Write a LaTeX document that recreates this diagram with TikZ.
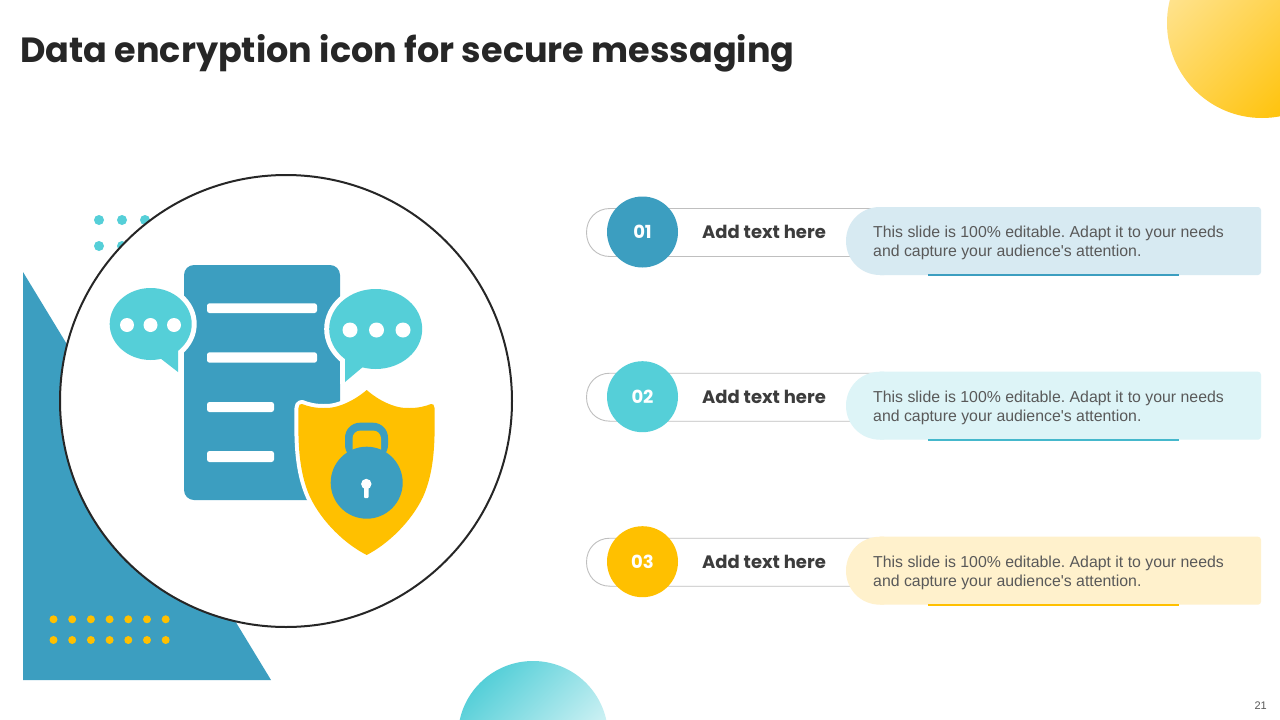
\documentclass[tikz,border=0pt]{standalone}
\usepackage{fontspec}
\setmainfont{Liberation Sans}
\newfontfamily\bodyfont{Liberation Sans}
\newfontfamily\titlefont{Poppins}
\newfontfamily\headfont{Poppins}
\usetikzlibrary{shadings}
\definecolor{tblue}{HTML}{3C9EC0}
\definecolor{tteal}{HTML}{55CFD8}
\definecolor{tyellow}{HTML}{FFC000}
\definecolor{tink}{HTML}{262626}
\definecolor{tbody}{HTML}{595959}
\definecolor{pa}{HTML}{D7EAF2}
\definecolor{pb}{HTML}{DDF4F7}
\definecolor{pc}{HTML}{FFF1CC}
\definecolor{la}{HTML}{3C9EC0}
\definecolor{lb}{HTML}{45B8CC}
\definecolor{lc}{HTML}{FFC000}
\definecolor{sunlight}{HTML}{FFE597}
\definecolor{sunmid}{HTML}{FFC720}
\tikzset{
  numdot/.style={circle,inner sep=0pt,minimum size=71pt,text=white,font=\headfont\bfseries\fontsize{18}{20}\selectfont},
  headtext/.style={anchor=west,inner sep=0pt,text=tink!90,font=\headfont\bfseries\fontsize{18}{22}\selectfont},
  bodytext/.style={anchor=west,inner sep=0pt,align=left,text=tbody,font=\bodyfont\fontsize{15.85}{19.3}\selectfont\frenchspacing},
  pill/.style={draw=black!25,line width=0.9pt,fill=white},
  halo/.style={draw=white,line width=#1,line join=round},
}
\begin{document}
\begin{tikzpicture}[x=1pt,y=-1pt]
\useasboundingbox (0,0) rectangle (1280,720);
\clip (0,0) rectangle (1280,720);
\fill[white] (0,0) rectangle (1280,720);
% corner decoration
\shade[top color=sunlight,middle color=sunmid,bottom color=tyellow,shading angle=45] (1262,23) circle[radius=95];
\shade[top color=tteal,bottom color=tteal!8,shading angle=45] (533,736) circle[radius=75];
% title
\node[anchor=base west,inner sep=0pt,text=tink,font=\titlefont\bfseries\fontsize{35}{40}\selectfont] (title) at (20,62) {Data encryption icon for secure messaging};
% triangle
\fill[tblue] (23,272) -- (23,680) -- (271,680) -- cycle;
% teal dots
\foreach \p in {(99,220),(122,220),(145,220),(99,246),(122,246)} \fill[tteal] \p circle[radius=5];
% yellow dots
\foreach \x in {53.5,72.2,90.9,109.6,128.3,147,165.7} {
  \fill[tyellow] (\x,619.3) circle[radius=4];
  \fill[tyellow] (\x,640) circle[radius=4];
}
% big circle
\draw[fill=white,draw=tink,line width=2pt] (286,401) circle[radius=226];
% document
\fill[tblue,rounded corners=10pt] (184,265) rectangle (340,500);
\foreach \a/\b/\c/\d in {207/303.3/317/313,207/352.3/317/362.7,207/402/274/412,207/451/274/462}
  \fill[white,rounded corners=2.5pt] (\a,\b) rectangle (\c,\d);
% left bubble
\def\lbub{(150.7,324) ellipse[x radius=41,y radius=36]}
\def\ltail{(160,358) -- (178,372) -- (178,350) -- cycle}
\path[halo=10pt,fill=white] \lbub;
\path[halo=10pt,fill=white] (172,345) -- (178,352) -- (178,360) -- cycle;
\fill[white] (178,352) -- (184,352) -- (184,372) -- (178,372) -- cycle;
\fill[tteal] \lbub;
\fill[tteal] \ltail;
\foreach \x in {127,150.5,174} \fill[white] (\x,325) circle[radius=7];
% right bubble
\def\rbub{(375.7,329) ellipse[x radius=46.5,y radius=40]}
\path[halo=10pt,fill=white] \rbub;
\fill[white] (340,358) -- (345,358) -- (345,384) -- (340,384) -- cycle;
\fill[tteal] \rbub;
\fill[tteal] (345,358) -- (345,382) -- (364,366) -- cycle;
\foreach \x in {350,376.5,403} \fill[white] (\x,330) circle[radius=7.5];
% shield
\def\shieldpath{(366.7,390)
  .. controls (355,400) and (338,409) .. (323,408)
  .. controls (314,408) and (307,406) .. (302,404)
  .. controls (300,403.5) and (298.5,405) .. (298.5,408)
  .. controls (298,440) and (298,470) .. (310,497)
  .. controls (322,522) and (345,544) .. (366.7,555)
  .. controls (388,544) and (411,522) .. (423,497)
  .. controls (435,470) and (435,440) .. (434.5,408)
  .. controls (434.5,405) and (433,403.5) .. (431,404)
  .. controls (426,406) and (419,408) .. (410,408)
  .. controls (395,409) and (378,400) .. (366.7,390) -- cycle}
\path[halo=8pt,fill=white] \shieldpath;
\fill[tyellow] \shieldpath;
% lock
\fill[tblue,rounded corners=15pt] (345,460) -- (345,422.7) -- (388,422.7) -- (388,460) -- cycle;
\fill[tyellow,rounded corners=8pt] (352.5,458) -- (352.5,430.5) -- (381,430.5) -- (381,458) -- cycle;
\fill[tblue] (366.7,482.7) circle[radius=36];
\fill[white] (366.3,484) circle[radius=5.2];
\fill[white,rounded corners=1pt] (364,486) rectangle (368.6,498);
% rows
\foreach \i/\n/\c/\p/\l/\y in {1/01/tblue/pa/la/0,2/02/tteal/pb/lb/164.7,3/03/tyellow/pc/lc/329.7} {
  \begin{scope}[yshift=-\y pt]
  \draw[pill] (880,208.5) -- (610,208.5) .. controls (596,208.5) and (586.5,219) .. (586.5,232.5)
     .. controls (586.5,246) and (596,256.5) .. (610,256.5) -- (880,256.5);
  \path[fill=\p,rounded corners=3pt] (880,207) -- (1261,207) -- (1261,275) -- (880,275);
  \path[fill=\p] (884,207) -- (880,207) .. controls (861,207) and (846,222) .. (846,241)
     .. controls (846,260) and (861,275) .. (880,275) -- (884,275) -- cycle;
  \fill[\l] (928,274) rectangle (1178.5,276);
  \node[numdot,fill=\c] (num\i) at (642.5,232) {\n};
  \node[headtext] (head\i) at (702,232) {Add text here};
  \node[bodytext] (body\i) at (873,243) {This slide is 100\% editable. Adapt it to your needs\\and capture your audience's attention.};
  \end{scope}
}
\node[anchor=east,inner sep=0pt,text=tbody,font=\bodyfont\fontsize{11}{13}\selectfont] (page) at (1267,706) {21};
\end{tikzpicture}
\end{document}
